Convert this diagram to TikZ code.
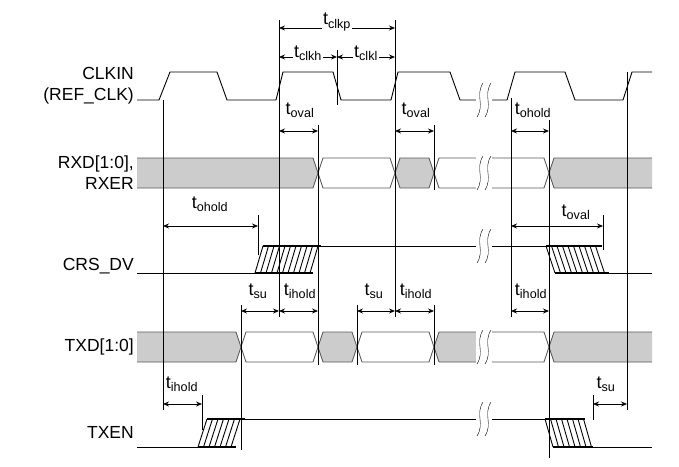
\documentclass[tikz,border=0pt]{standalone}
\usepackage{fontspec}
\setmainfont{Liberation Sans}
\usetikzlibrary{arrows.meta}
\newcommand\tl[1]{t\textsubscript{#1}}
\newcommand\busseg[4]{% fill, x1, x2, yc
  \path[bus,fill=#1] (#2,#4) -- ({#2+5},{#4-15}) -- ({#3-5},{#4-15}) -- (#3,#4) -- ({#3-5},{#4+15}) -- ({#2+5},{#4+15}) -- cycle;}
\newcommand\busstart[3]{% fill, x2, yc
  \path[bus,fill=#1] (137,{#3-15}) -- ({#2-5},{#3-15}) -- (#2,#3) -- ({#2-5},{#3+15}) -- (137,{#3+15});}
\newcommand\busend[3]{% fill, x1, yc
  \path[bus,fill=#1] (652,{#3-15}) -- ({#2+5},{#3-15}) -- (#2,#3) -- ({#2+5},{#3+15}) -- (652,{#3+15});}
\newcommand\brk[1]{% yc
  \fill[white] (476,{#1-17}) rectangle (492,{#1+17});
  \draw[thin] (477,{#1+17}) .. controls (485,{#1+4}) and (475,{#1-4}) .. (483,{#1-17});
  \draw[thin] (485,{#1+17}) .. controls (493,{#1+4}) and (483,{#1-4}) .. (491,{#1-17});}
\newcommand\hatch[5]{%
  \draw[line width=1.2pt] (#2,#3) -- ({#2+#5},#3);
  \draw[line width=1.2pt] (#1,#4) -- ({#1+#5},#4);
  \foreach \k in {0,5.5,...,#5}{\draw[line width=0.9pt] ({#1+\k},#4) -- ({#2+\k},#3);}}
\tikzset{
  bus/.style={draw=black!65,line width=0.9pt},
  sig/.style={line width=0.9pt},
  vmark/.style={line width=0.6pt},
  dim/.style={{Stealth[length=6pt,width=5pt]}-{Stealth[length=6pt,width=5pt]},line width=0.8pt},
  lab/.style={font=\fontsize{18}{20}\selectfont,inner sep=1pt},
  sig name/.style={font=\fontsize{17.5}{21}\selectfont,anchor=east,align=right,inner sep=0pt}
}
\begin{document}
\begin{tikzpicture}[x=1pt,y=-1pt]
\useasboundingbox (0,0) rectangle (679,466);
\node[sig name] (n1) at (134,86) {CLKIN\\(REF\_CLK)};
\node[sig name] (n2) at (134,173) {RXD[1:0],\\RXER};
\node[sig name] (n3) at (134,266) {CRS\_DV};
\node[sig name] (n4) at (134,347) {TXD[1:0]};
\node[sig name] (n5) at (134,432) {TXEN};
% clock
\draw[sig] (137,100) -- (159,100) -- (170,72) -- (217,72) -- (227,100) -- (276,100) -- (283,72) -- (333,72) -- (341,100) -- (391,100) -- (398,72) -- (450,72) -- (460,100) -- (507,100) -- (515,72) -- (565,72) -- (575,100) -- (623,100) -- (632,72) -- (652,72);
\brk{100}
% RXD
\busstart{gray!40}{318}{173}
\busseg{white}{318}{395}{173}
\busseg{gray!40}{395}{434}{173}
\path[bus,fill=white] (439,158) -- (544,158) -- (549,173) -- (544,188) -- (439,188) -- (434,173) -- cycle;
\busend{gray!40}{549}{173}
\brk{173}
% CRS_DV
\draw[sig] (137,273) -- (255,273);
\hatch{255}{263}{246}{273}{58}
\draw[sig] (321,246) -- (546,246);
\draw[line width=1.2pt] (546,246) -- (602,246);
\draw[line width=1.2pt] (555,273) -- (609,273);
\foreach \k in {0,5.5,...,53}{\draw[line width=0.9pt] ({546+\k},246) -- ({555+\k},273);}
\draw[sig] (609,273) -- (652,273);
\brk{246}
% TXD
\busstart{gray!40}{241}{347}
\busseg{white}{241}{318}{347}
\busseg{gray!40}{318}{357}{347}
\busseg{white}{357}{434}{347}
\path[bus,fill=gray!40] (492,332) -- (439,332) -- (434,347) -- (439,362) -- (492,362);
\path[bus,fill=white] (486,332) -- (544,332) -- (549,347) -- (544,362) -- (486,362);
\busend{gray!40}{549}{347}
\brk{347}
% TXEN
\draw[sig] (137,447) -- (198,447);
\hatch{198}{207}{419}{447}{38}
\draw[sig] (245,419) -- (545,419);
\draw[line width=1.2pt] (545,419) -- (585,419);
\draw[line width=1.2pt] (553,447) -- (593,447);
\foreach \k in {0,5.5,...,40}{\draw[line width=0.9pt] ({545+\k},419) -- ({553+\k},447);}
\draw[sig] (593,447) -- (652,447);
\brk{419}
% marker lines
\draw[vmark] (163,100) -- (163,410);
\draw[vmark] (279,20) -- (279,317);
\draw[vmark] (337,50) -- (337,105);
\draw[vmark] (395,20) -- (395,317);
\draw[vmark] (318,125) -- (318,365);
\draw[vmark] (434,125) -- (434,190) (434,305) -- (434,365);
\draw[vmark] (258,215) -- (258,255);
\draw[vmark] (241,305) -- (241,450);
\draw[vmark] (357,305) -- (357,365);
\draw[vmark] (202,395) -- (202,430);
\draw[vmark] (511,98) -- (511,317);
\draw[vmark] (549,120) -- (549,458);
\draw[vmark] (603,215) -- (603,250);
\draw[vmark] (627,72) -- (627,410);
\draw[vmark] (593,395) -- (593,420);
% dimensions
\draw[dim] (279,28) -- (395,28);
\node[lab,fill=white] (a1) at (337,22) {\tl{clkp}};
\draw[dim] (279,57) -- (337,57);
\draw[dim] (337,57) -- (395,57);
\node[lab,fill=white] (a2) at (308,53) {\tl{clkh}};
\node[lab,fill=white] (a3) at (366,53) {\tl{clkl}};
\draw[dim] (279,131) -- (318,131); \node[lab] (a4) at (300,110) {\tl{oval}};
\draw[dim] (395,131) -- (434,131); \node[lab] (a5) at (416,110) {\tl{oval}};
\draw[dim] (511,131) -- (549,131); \node[lab] (a6) at (533,110) {\tl{ohold}};
\draw[dim] (163,226) -- (258,226); \node[lab] (a7) at (210,204) {\tl{ohold}};
\draw[dim] (511,226) -- (603,226); \node[lab] (a8) at (576,212) {\tl{oval}};
\draw[dim] (241,311) -- (279,311); \node[lab] (a9) at (258,291) {\tl{su}};
\draw[dim] (279,311) -- (318,311); \node[lab] (a10) at (300,291) {\tl{ihold}};
\draw[dim] (357,311) -- (395,311); \node[lab] (a11) at (374,291) {\tl{su}};
\draw[dim] (395,311) -- (434,311); \node[lab] (a12) at (416,291) {\tl{ihold}};
\draw[dim] (511,311) -- (549,311); \node[lab] (a13) at (531,291) {\tl{ihold}};
\draw[dim] (163,404) -- (202,404); \node[lab] (a14) at (182,384) {\tl{ihold}};
\draw[dim] (593,404) -- (627,404); \node[lab] (a15) at (606,384) {\tl{su}};
\end{tikzpicture}
\end{document}
